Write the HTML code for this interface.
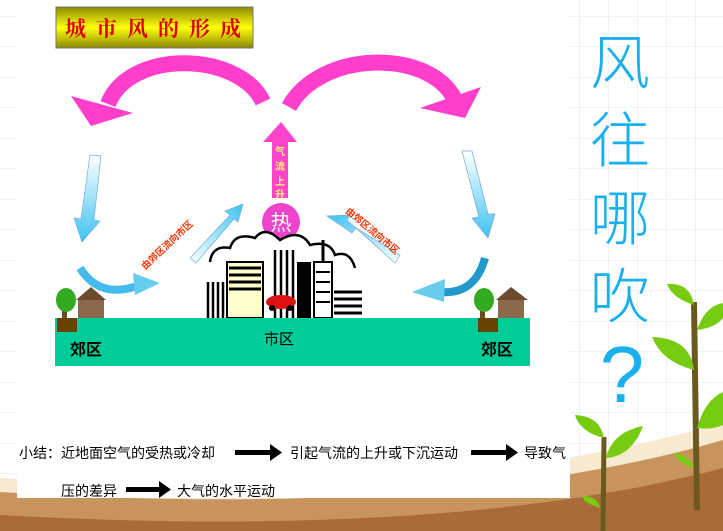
<!DOCTYPE html>
<html><head><meta charset="utf-8"><style>
html,body{margin:0;padding:0;}
body{width:723px;height:531px;overflow:hidden;background:#fff;font-family:"Liberation Sans","Noto Sans CJK SC",sans-serif;}
svg{display:block}
</style></head><body>
<svg width="723" height="531" viewBox="0 0 723 531" xmlns="http://www.w3.org/2000/svg" font-family="Liberation Sans, Noto Sans CJK SC, sans-serif">
<defs>
<pattern id="grid" width="29" height="30.5" patternUnits="userSpaceOnUse" x="0" y="16">
<path d="M29 0V30.5M0 0H29" stroke="#e6e6e6" stroke-width="1" fill="none"/>
</pattern>
<linearGradient id="gold" x1="0" y1="0" x2="0" y2="1">
<stop offset="0" stop-color="#8a8a00"/><stop offset="0.5" stop-color="#ffff10"/><stop offset="1" stop-color="#8a8a00"/>
</linearGradient>
<linearGradient id="blu" x1="0" y1="0" x2="0" y2="1">
<stop offset="0" stop-color="#ffffff"/><stop offset="1" stop-color="#3cc3f0"/>
</linearGradient>
<linearGradient id="blu2" x1="0" y1="1" x2="1" y2="0">
<stop offset="0" stop-color="#ffffff"/><stop offset="1" stop-color="#3cc3f0"/>
</linearGradient>
<linearGradient id="blu3" x1="1" y1="1" x2="0" y2="0">
<stop offset="0" stop-color="#ffffff"/><stop offset="1" stop-color="#3cc3f0"/>
</linearGradient>
</defs>
<rect width="723" height="531" fill="url(#grid)"/>
<!-- hill -->
<path d="M0 478 Q450 505 723 422 V531 H0Z" fill="#f7ead0"/>
<path d="M0 492 Q450 520 723 440 V531 H0Z" fill="#c9935e"/>
<path d="M0 515 Q450 540 723 468 V531 H0Z" fill="#a96c38"/>
<!-- white panel -->
<rect x="17" y="0" width="553" height="498" fill="#fff"/>
<!-- title -->
<rect x="56" y="7" width="197" height="41" fill="url(#gold)" stroke="#777" stroke-width="1"/>
<text x="158" y="36" text-anchor="middle" font-size="21" font-weight="bold" fill="#e00000" letter-spacing="10" font-family="Liberation Serif, Noto Serif CJK SC, serif">城市风的形成</text>
<!-- pink arcs -->
<path d="M263 102 C240 52 130 48 108 104" stroke="#ff3fcc" stroke-width="16" fill="none"/>
<polygon points="71,96 133,113 91,126" fill="#ff3fcc"/>
<path d="M289 107 C320 50 430 48 455 100" stroke="#ff3fcc" stroke-width="16" fill="none"/>
<polygon points="481,87 420,108 465,118" fill="#ff3fcc"/>
<!-- up arrow -->
<polygon points="281,122 297,142 288,142 288,198 272,198 272,142 263,142" fill="#ff44cc"/>
<text font-size="10" fill="#ffff66" font-weight="bold" text-anchor="middle"><tspan x="280" y="155">气</tspan><tspan x="280" y="170">流</tspan><tspan x="280" y="185">上</tspan><tspan x="280" y="198">升</tspan></text>
<circle cx="281" cy="222" r="19" fill="#ee44cc"/>
<text x="281" y="230" text-anchor="middle" font-size="21" fill="#fff">热</text>
<!-- blue arrows -->
<polygon points="90,155 101,156 94,220 100,221 82,242 74,218 81,219" fill="url(#blu)" stroke="#7ad" stroke-width="0.7"/>
<polygon points="462,151 472,151 488,214 495,214 488,238 472,218 479,217" fill="url(#blu)" stroke="#7ad" stroke-width="0.7"/>
<polygon points="190,258 230,215 225,211 243,204 238,222 234,219 196,263" fill="url(#blu2)" stroke="#7ad" stroke-width="0.7"/>
<polygon points="400,255 356,228 352,233 327,216 350,215 347,220 395,263" fill="url(#blu3)" stroke="#7ad" stroke-width="0.7"/>
<path d="M80 268 Q100 300 140 285" stroke="#44bbee" stroke-width="8" fill="none"/>
<polygon points="133,273 160,283 135,295" fill="#66ccf0"/>
<path d="M485 258 Q475 295 440 292" stroke="#2299cc" stroke-width="8" fill="none"/>
<polygon points="445,279 412,292 444,302" fill="#66ccf0"/>
<text font-size="9.5" font-weight="bold" fill="#ee3300" transform="translate(145,270) rotate(-43)">由郊区流向市区</text>
<text font-size="9.5" font-weight="bold" fill="#ee3300" transform="translate(345,212) rotate(40)">由郊区流向市区</text>
<!-- clouds -->
<path d="M210 262 Q212 245 230 248 Q235 232 255 238 Q265 225 280 240 Q300 228 310 245 Q330 240 335 255 Q350 250 355 268" fill="#fff" stroke="#000" stroke-width="2.5"/>
<!-- buildings -->
<rect x="205" y="282" width="20" height="36" fill="#fff"/>
<g stroke="#000" stroke-width="2.5"><line x1="208" y1="282" x2="208" y2="318"/><line x1="213" y1="282" x2="213" y2="318"/><line x1="218" y1="282" x2="218" y2="318"/><line x1="223" y1="282" x2="223" y2="318"/></g>
<rect x="227" y="262" width="36" height="56" fill="#ffffcc" stroke="#000" stroke-width="2"/>
<g stroke="#000" stroke-width="3"><line x1="229" y1="268" x2="261" y2="268"/><line x1="229" y1="275" x2="261" y2="275"/><line x1="229" y1="282" x2="261" y2="282"/><line x1="229" y1="289" x2="261" y2="289"/></g>
<rect x="273" y="250" width="22" height="68" fill="#fff"/>
<g stroke="#000" stroke-width="2.5"><line x1="275" y1="250" x2="275" y2="318"/><line x1="281" y1="250" x2="281" y2="318"/><line x1="287" y1="250" x2="287" y2="318"/><line x1="293" y1="250" x2="293" y2="318"/></g>
<rect x="297" y="262" width="14" height="56" fill="#000"/>
<rect x="314" y="262" width="18" height="56" fill="#fff" stroke="#000" stroke-width="2"/>
<line x1="323" y1="240" x2="323" y2="262" stroke="#000" stroke-width="3"/>
<g stroke="#000" stroke-width="2"><line x1="316" y1="272" x2="330" y2="272"/><line x1="316" y1="282" x2="330" y2="282"/><line x1="316" y1="292" x2="330" y2="292"/><line x1="316" y1="302" x2="330" y2="302"/></g>
<g stroke="#000" stroke-width="3"><line x1="334" y1="292" x2="362" y2="292"/><line x1="334" y1="299" x2="362" y2="299"/><line x1="334" y1="306" x2="362" y2="306"/><line x1="334" y1="313" x2="362" y2="313"/></g>
<ellipse cx="281" cy="302" rx="15" ry="7" fill="#dd1111"/>
<circle cx="272" cy="308" r="3" fill="#000"/><circle cx="290" cy="308" r="3" fill="#000"/>
<!-- trees -->
<rect x="62" y="300" width="5" height="18" fill="#6a4a20"/>
<ellipse cx="66" cy="300" rx="10" ry="12" fill="#33aa22"/>
<rect x="78" y="298" width="26" height="20" fill="#8a6a4a"/>
<polygon points="76,300 91,287 106,300" fill="#6b4a30"/>
<rect x="480" y="300" width="5" height="18" fill="#6a4a20"/>
<ellipse cx="484" cy="300" rx="10" ry="12" fill="#33aa22"/>
<rect x="498" y="298" width="26" height="20" fill="#8a6a4a"/>
<polygon points="496,300 511,287 528,300" fill="#6b4a30"/>
<!-- ground -->
<rect x="55" y="318" width="475" height="48" fill="#00cc99"/>
<rect x="57" y="318" width="20" height="14" fill="#664400"/>
<rect x="478" y="318" width="20" height="14" fill="#664400"/>
<text x="70" y="355" font-size="16" font-weight="bold" fill="#000">郊区</text>
<text x="264" y="344" font-size="15" fill="#000">市区</text>
<text x="481" y="355" font-size="16" font-weight="bold" fill="#000">郊区</text>
<!-- summary -->
<g font-size="14" fill="#000">
<text x="19" y="458">小结：近地面空气的受热或冷却</text>
<text x="290" y="458">引起气流的上升或下沉运动</text>
<text x="524" y="458">导致气</text>
<text x="61" y="496">压的差异</text>
<text x="177" y="496">大气的水平运动</text>
</g>
<g fill="#000">
<rect x="235" y="450" width="38" height="5"/><polygon points="270,444 282,452.5 270,461"/>
<rect x="471" y="450" width="38" height="5"/><polygon points="506,444 518,452.5 506,461"/>
<rect x="126" y="487" width="36" height="5"/><polygon points="159,481 171,489.5 159,498"/>
</g>
<!-- right title -->
<g font-size="60" fill="#1ab0ee" text-anchor="middle" font-family="Noto Sans CJK SC, sans-serif" font-weight="300">
<text x="620" y="84">风</text>
<text x="620" y="162">往</text>
<text x="620" y="240">哪</text>
<text x="620" y="318">吹</text>
</g>
<text x="622" y="402" font-size="80" fill="#1ab0ee" text-anchor="middle" font-family="Liberation Sans, sans-serif">?</text>
<!-- plants -->
<path d="M694 302 L697 510" stroke="#6b5a20" stroke-width="6"/>
<path d="M604 437 L603 531" stroke="#6b5a20" stroke-width="5"/>
<g fill="#77cc11">
<path d="M694 305 Q672 298 667 284 Q690 282 694 305Z"/>
<path d="M697 330 Q705 306 723 303 V318 Q715 328 697 330Z"/>
<path d="M694 370 Q662 362 652 337 Q690 338 694 370Z"/>
<path d="M697 428 Q705 400 723 392 V425 Q712 430 697 428Z"/>
<path d="M694 468 Q676 462 674 453 Q690 455 694 468Z"/>
<path d="M604 438 Q580 432 575 415 Q600 416 604 438Z"/>
<path d="M606 458 Q612 432 643 426 Q632 456 606 458Z"/>
<path d="M600 508 Q584 503 582 496 Q598 496 600 508Z"/>
</g>
</svg>
</body></html>
